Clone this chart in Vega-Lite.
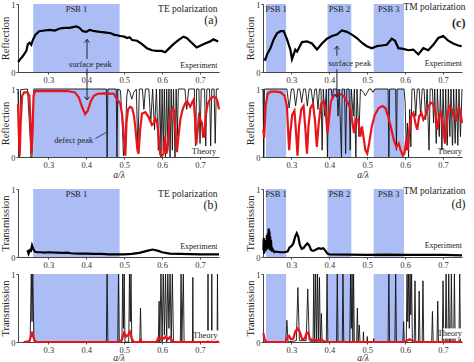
{
"$schema": "https://vega.github.io/schema/vega-lite/v6.json",
"padding": 0,
"autosize": {"type": "pad"},
"bounds": "flush",
"columns": 2,
"spacing": {"row": 0, "column": 44},
"config": {
 "font": "Liberation Serif",
 "view": {"stroke": null},
 "axis": {"grid": false, "labelFont": "Liberation Serif", "labelFontSize": 8.5, "labelColor": "#333", "tickSize": 2, "tickColor": "#444", "domainColor": "#444", "labelPadding": 1, "titleFont": "Liberation Serif", "titleFontSize": 10.5, "titleFontWeight": "normal", "titleColor": "#222"},
 "axisX": {"titleY": 20.5, "titleBaseline": "alphabetic", "titleFontSize": 9.5, "titleFontStyle": "italic"},
 "axisY": {"titlePadding": 0},
 "text": {"font": "Liberation Serif", "fontSize": 8.5, "color": "#222"}
},
"datasets": {
 "one": [{}],
 "aExp": [{"x":0.2204,"y":0.147},{"x":0.226,"y":0.19},{"x":0.233,"y":0.235},{"x":0.242,"y":0.31},{"x":0.246,"y":0.41},{"x":0.2505,"y":0.43},{"x":0.255,"y":0.4},{"x":0.259,"y":0.47},{"x":0.266,"y":0.55},{"x":0.276,"y":0.6},{"x":0.29,"y":0.61},{"x":0.3035,"y":0.62},{"x":0.317,"y":0.61},{"x":0.33,"y":0.64},{"x":0.343,"y":0.65},{"x":0.356,"y":0.65},{"x":0.365,"y":0.66},{"x":0.374,"y":0.67},{"x":0.382,"y":0.65},{"x":0.391,"y":0.6},{"x":0.4,"y":0.59},{"x":0.409,"y":0.62},{"x":0.422,"y":0.6},{"x":0.436,"y":0.59},{"x":0.453,"y":0.58},{"x":0.465,"y":0.57},{"x":0.4726,"y":0.55},{"x":0.49,"y":0.53},{"x":0.5,"y":0.52},{"x":0.508,"y":0.5},{"x":0.514,"y":0.51},{"x":0.521,"y":0.47},{"x":0.534,"y":0.46},{"x":0.547,"y":0.41},{"x":0.56,"y":0.35},{"x":0.573,"y":0.32},{"x":0.586,"y":0.31},{"x":0.599,"y":0.31},{"x":0.608,"y":0.29},{"x":0.617,"y":0.34},{"x":0.63,"y":0.41},{"x":0.643,"y":0.47},{"x":0.656,"y":0.52},{"x":0.665,"y":0.5},{"x":0.678,"y":0.43},{"x":0.691,"y":0.36},{"x":0.702,"y":0.39},{"x":0.713,"y":0.42},{"x":0.727,"y":0.45},{"x":0.735,"y":0.48},{"x":0.748,"y":0.45}],
 "aThB": [{"x":0.22,"y":0.98},{"x":0.223,"y":0},{"x":0.227,"y":0.99},{"x":0.245,"y":1},{"x":0.252,"y":0.3},{"x":0.254,"y":0},{"x":0.257,"y":0},{"x":0.259,"y":0.5},{"x":0.262,"y":1},{"x":0.453,"y":1},{"x":0.455,"y":0},{"x":0.457,"y":1},{"x":0.479,"y":1},{"x":0.481,"y":0},{"x":0.483,"y":1},{"x":0.49,"y":0.98},{"x":0.495,"y":0.5},{"x":0.498,"y":0.02},{"x":0.503,"y":0.3},{"x":0.507,"y":0.9},{"x":0.51,"y":1},{"x":0.515,"y":0.95},{"x":0.52,"y":0.85},{"x":0.525,"y":0.95},{"x":0.532,"y":1},{"x":0.536,"y":0.1},{"x":0.54,"y":1},{"x":0.548,"y":1},{"x":0.552,"y":0.7},{"x":0.556,"y":1},{"x":0.565,"y":1},{"x":0.57,"y":0.5},{"x":0.575,"y":1},{"x":0.58,"y":0.4},{"x":0.585,"y":1},{"x":0.59,"y":0.1},{"x":0.594,"y":1},{"x":0.597,"y":0},{"x":0.6,"y":1},{"x":0.603,"y":0.1},{"x":0.606,"y":1},{"x":0.609,"y":0},{"x":0.612,"y":1},{"x":0.615,"y":0.2},{"x":0.618,"y":1},{"x":0.621,"y":0},{"x":0.624,"y":1},{"x":0.627,"y":0.1},{"x":0.63,"y":1},{"x":0.634,"y":0},{"x":0.637,"y":1},{"x":0.64,"y":0.3},{"x":0.643,"y":1},{"x":0.66,"y":1},{"x":0.665,"y":0.7},{"x":0.67,"y":1},{"x":0.685,"y":1},{"x":0.688,"y":0.1},{"x":0.691,"y":1},{"x":0.697,"y":1},{"x":0.7,"y":0.2},{"x":0.703,"y":1},{"x":0.712,"y":1},{"x":0.715,"y":0.1},{"x":0.718,"y":1},{"x":0.725,"y":1},{"x":0.728,"y":0.15},{"x":0.731,"y":1},{"x":0.737,"y":1},{"x":0.74,"y":0.2},{"x":0.743,"y":1},{"x":0.75,"y":1}],
 "aThR": [{"x":0.22,"y":0.78},{"x":0.2225,"y":0.3},{"x":0.2245,"y":0.02},{"x":0.227,"y":0.5},{"x":0.231,"y":0.9},{"x":0.236,"y":0.95},{"x":0.245,"y":0.95},{"x":0.25,"y":0.9},{"x":0.253,"y":0.5},{"x":0.2555,"y":0.05},{"x":0.258,"y":0.3},{"x":0.261,"y":0.9},{"x":0.265,"y":0.97},{"x":0.3,"y":0.97},{"x":0.35,"y":0.97},{"x":0.37,"y":0.95},{"x":0.38,"y":0.88},{"x":0.39,"y":0.72},{"x":0.397,"y":0.63},{"x":0.404,"y":0.68},{"x":0.412,"y":0.82},{"x":0.42,"y":0.9},{"x":0.43,"y":0.93},{"x":0.45,"y":0.935},{"x":0.4726,"y":0.93},{"x":0.481,"y":0.85},{"x":0.49,"y":0.78},{"x":0.495,"y":0.6},{"x":0.499,"y":0.31},{"x":0.503,"y":0.02},{"x":0.506,"y":0.5},{"x":0.51,"y":0.7},{"x":0.516,"y":0.74},{"x":0.521,"y":0.72},{"x":0.526,"y":0.6},{"x":0.53,"y":0.4},{"x":0.535,"y":0.1},{"x":0.538,"y":0.05},{"x":0.542,"y":0.4},{"x":0.547,"y":0.64},{"x":0.556,"y":0.66},{"x":0.565,"y":0.58},{"x":0.573,"y":0.47},{"x":0.578,"y":0.5},{"x":0.582,"y":0.57},{"x":0.587,"y":0.5},{"x":0.591,"y":0.3},{"x":0.595,"y":0.04},{"x":0.6,"y":0.02},{"x":0.604,"y":0.05},{"x":0.607,"y":0.3},{"x":0.611,"y":0.05},{"x":0.614,"y":0.1},{"x":0.618,"y":0.4},{"x":0.622,"y":0.64},{"x":0.628,"y":0.72},{"x":0.631,"y":0.68},{"x":0.635,"y":0.4},{"x":0.639,"y":0.07},{"x":0.643,"y":0.3},{"x":0.648,"y":0.55},{"x":0.653,"y":0.68},{"x":0.657,"y":0.74},{"x":0.662,"y":0.8},{"x":0.666,"y":0.82},{"x":0.67,"y":0.78},{"x":0.674,"y":0.74},{"x":0.679,"y":0.8},{"x":0.683,"y":0.84},{"x":0.687,"y":0.55},{"x":0.69,"y":0.18},{"x":0.693,"y":0.35},{"x":0.697,"y":0.6},{"x":0.701,"y":0.55},{"x":0.705,"y":0.5},{"x":0.708,"y":0.3},{"x":0.711,"y":0.3},{"x":0.715,"y":0.6},{"x":0.72,"y":0.78},{"x":0.727,"y":0.86},{"x":0.736,"y":0.89},{"x":0.742,"y":0.87},{"x":0.746,"y":0.82},{"x":0.75,"y":0.7}],
 "bExp": [{"x":0.245,"y":0.1},{"x":0.248,"y":0.05},{"x":0.251,"y":0.1},{"x":0.254,"y":0.09},{"x":0.257,"y":0.17},{"x":0.26,"y":0.12},{"x":0.264,"y":0.08},{"x":0.27,"y":0.07},{"x":0.28,"y":0.07},{"x":0.29,"y":0.065},{"x":0.3,"y":0.07},{"x":0.32,"y":0.065},{"x":0.34,"y":0.06},{"x":0.35,"y":0.065},{"x":0.36,"y":0.055},{"x":0.38,"y":0.05},{"x":0.4,"y":0.05},{"x":0.42,"y":0.045},{"x":0.44,"y":0.045},{"x":0.46,"y":0.04},{"x":0.48,"y":0.04},{"x":0.5,"y":0.04},{"x":0.52,"y":0.045},{"x":0.54,"y":0.06},{"x":0.56,"y":0.09},{"x":0.575,"y":0.11},{"x":0.59,"y":0.09},{"x":0.6,"y":0.07},{"x":0.62,"y":0.05},{"x":0.65,"y":0.045},{"x":0.7,"y":0.04},{"x":0.75,"y":0.04}],
 "bThB": [{"x":0.24,"y":0},{"x":0.252,"y":0.02},{"x":0.255,"y":1},{"x":0.257,"y":0.3},{"x":0.259,"y":1},{"x":0.262,"y":0.02},{"x":0.27,"y":0},{"x":0.453,"y":0},{"x":0.455,"y":1},{"x":0.457,"y":0},{"x":0.483,"y":0},{"x":0.485,"y":1},{"x":0.487,"y":0},{"x":0.494,"y":0},{"x":0.496,"y":1},{"x":0.498,"y":0.2},{"x":0.5,"y":1},{"x":0.502,"y":0},{"x":0.512,"y":0},{"x":0.514,"y":1},{"x":0.516,"y":0.3},{"x":0.518,"y":1},{"x":0.52,"y":0},{"x":0.541,"y":0},{"x":0.543,"y":0.5},{"x":0.545,"y":0},{"x":0.59,"y":0},{"x":0.592,"y":0.6},{"x":0.594,"y":0},{"x":0.597,"y":1},{"x":0.6,"y":0},{"x":0.603,"y":1},{"x":0.606,"y":0.1},{"x":0.609,"y":1},{"x":0.612,"y":0},{"x":0.615,"y":1},{"x":0.618,"y":0.2},{"x":0.621,"y":1},{"x":0.624,"y":0},{"x":0.627,"y":1},{"x":0.63,"y":0},{"x":0.648,"y":0},{"x":0.65,"y":1},{"x":0.652,"y":0},{"x":0.656,"y":1},{"x":0.658,"y":0},{"x":0.68,"y":0},{"x":0.681,"y":0.95},{"x":0.682,"y":0},{"x":0.72,"y":0},{"x":0.721,"y":1},{"x":0.722,"y":0},{"x":0.73,"y":0},{"x":0.731,"y":1},{"x":0.732,"y":0},{"x":0.745,"y":0},{"x":0.746,"y":1},{"x":0.747,"y":0},{"x":0.75,"y":0}],
 "bThR": [{"x":0.235,"y":0},{"x":0.25,"y":0.01},{"x":0.255,"y":0.1},{"x":0.257,"y":0.15},{"x":0.26,"y":0.08},{"x":0.265,"y":0.01},{"x":0.27,"y":0},{"x":0.49,"y":0},{"x":0.495,"y":0.05},{"x":0.5,"y":0.14},{"x":0.505,"y":0.08},{"x":0.51,"y":0.1},{"x":0.515,"y":0.15},{"x":0.52,"y":0.05},{"x":0.525,"y":0},{"x":0.54,"y":0},{"x":0.543,"y":0.03},{"x":0.546,"y":0},{"x":0.585,"y":0},{"x":0.59,"y":0.06},{"x":0.595,"y":0.04},{"x":0.6,"y":0.07},{"x":0.605,"y":0.05},{"x":0.61,"y":0.08},{"x":0.615,"y":0.04},{"x":0.62,"y":0.07},{"x":0.625,"y":0.03},{"x":0.63,"y":0},{"x":0.75,"y":0}],
 "cExp": [{"x":0.2268,"y":0.19},{"x":0.231,"y":0.18},{"x":0.2357,"y":0.26},{"x":0.2445,"y":0.35},{"x":0.2532,"y":0.48},{"x":0.262,"y":0.57},{"x":0.2708,"y":0.6},{"x":0.2796,"y":0.6},{"x":0.2884,"y":0.48},{"x":0.2971,"y":0.33},{"x":0.3015,"y":0.19},{"x":0.3103,"y":0.33},{"x":0.315,"y":0.3},{"x":0.328,"y":0.44},{"x":0.3411,"y":0.45},{"x":0.3542,"y":0.42},{"x":0.3674,"y":0.33},{"x":0.3806,"y":0.42},{"x":0.3937,"y":0.49},{"x":0.4068,"y":0.53},{"x":0.42,"y":0.55},{"x":0.4332,"y":0.61},{"x":0.4463,"y":0.59},{"x":0.4595,"y":0.55},{"x":0.4726,"y":0.5},{"x":0.4858,"y":0.43},{"x":0.4989,"y":0.38},{"x":0.512,"y":0.35},{"x":0.5252,"y":0.38},{"x":0.5384,"y":0.39},{"x":0.5515,"y":0.4},{"x":0.5647,"y":0.49},{"x":0.5734,"y":0.46},{"x":0.5822,"y":0.35},{"x":0.5953,"y":0.34},{"x":0.6085,"y":0.32},{"x":0.6216,"y":0.33},{"x":0.6348,"y":0.26},{"x":0.6479,"y":0.35},{"x":0.6611,"y":0.32},{"x":0.6742,"y":0.4},{"x":0.6874,"y":0.5},{"x":0.7005,"y":0.53},{"x":0.7137,"y":0.46},{"x":0.7269,"y":0.42},{"x":0.74,"y":0.39},{"x":0.749,"y":0.38}],
 "cThB": [{"x":0.225,"y":1},{"x":0.227,"y":0},{"x":0.229,"y":1},{"x":0.288,"y":1},{"x":0.294,"y":0.72},{"x":0.3,"y":1},{"x":0.306,"y":1},{"x":0.311,"y":0.75},{"x":0.317,"y":1},{"x":0.322,"y":1},{"x":0.327,"y":0.8},{"x":0.332,"y":1},{"x":0.337,"y":1},{"x":0.342,"y":0.75},{"x":0.347,"y":1},{"x":0.352,"y":1},{"x":0.357,"y":0.78},{"x":0.362,"y":1},{"x":0.366,"y":1},{"x":0.37,"y":0.7},{"x":0.374,"y":1},{"x":0.378,"y":1},{"x":0.381,"y":0.1},{"x":0.384,"y":1},{"x":0.388,"y":0.6},{"x":0.392,"y":1},{"x":0.395,"y":0},{"x":0.398,"y":1},{"x":0.405,"y":1},{"x":0.408,"y":0.85},{"x":0.411,"y":1},{"x":0.42,"y":1},{"x":0.423,"y":0.6},{"x":0.426,"y":1},{"x":0.432,"y":0},{"x":0.434,"y":1},{"x":0.44,"y":1},{"x":0.443,"y":0.05},{"x":0.446,"y":1},{"x":0.452,"y":1},{"x":0.455,"y":0.1},{"x":0.458,"y":1},{"x":0.463,"y":0.6},{"x":0.466,"y":1},{"x":0.47,"y":0},{"x":0.473,"y":1},{"x":0.478,"y":0.3},{"x":0.482,"y":1},{"x":0.49,"y":0.95},{"x":0.495,"y":0.9},{"x":0.5,"y":0.95},{"x":0.505,"y":1},{"x":0.51,"y":1},{"x":0.515,"y":0.95},{"x":0.52,"y":1},{"x":0.555,"y":1},{"x":0.557,"y":0},{"x":0.559,"y":1},{"x":0.575,"y":1},{"x":0.577,"y":0.1},{"x":0.579,"y":1},{"x":0.597,"y":1},{"x":0.6,"y":0.8},{"x":0.603,"y":0.1},{"x":0.606,"y":0.5},{"x":0.609,"y":0},{"x":0.612,"y":0.7},{"x":0.615,"y":0.15},{"x":0.618,"y":1},{"x":0.624,"y":1},{"x":0.628,"y":0.6},{"x":0.632,"y":1},{"x":0.637,"y":1},{"x":0.641,"y":0.6},{"x":0.645,"y":1},{"x":0.65,"y":1},{"x":0.654,"y":0.55},{"x":0.658,"y":1},{"x":0.663,"y":0.1},{"x":0.666,"y":1},{"x":0.672,"y":1},{"x":0.675,"y":0.5},{"x":0.678,"y":1},{"x":0.682,"y":0.2},{"x":0.685,"y":1},{"x":0.69,"y":0.3},{"x":0.693,"y":1},{"x":0.697,"y":0.1},{"x":0.7,"y":1},{"x":0.704,"y":0.2},{"x":0.707,"y":1},{"x":0.711,"y":0.05},{"x":0.714,"y":1},{"x":0.718,"y":0.3},{"x":0.721,"y":1},{"x":0.725,"y":0.1},{"x":0.728,"y":1},{"x":0.732,"y":0.2},{"x":0.735,"y":1},{"x":0.739,"y":0.15},{"x":0.742,"y":1},{"x":0.746,"y":0.3},{"x":0.75,"y":1}],
 "cThR": [{"x":0.226,"y":0.4},{"x":0.228,"y":0.28},{"x":0.232,"y":0.75},{"x":0.237,"y":0.93},{"x":0.245,"y":0.96},{"x":0.26,"y":0.96},{"x":0.272,"y":0.95},{"x":0.282,"y":0.9},{"x":0.288,"y":0.75},{"x":0.292,"y":0.3},{"x":0.294,"y":0.1},{"x":0.297,"y":0.35},{"x":0.302,"y":0.62},{"x":0.308,"y":0.68},{"x":0.313,"y":0.3},{"x":0.316,"y":0.02},{"x":0.32,"y":0.45},{"x":0.326,"y":0.7},{"x":0.332,"y":0.75},{"x":0.337,"y":0.4},{"x":0.341,"y":0.05},{"x":0.345,"y":0.45},{"x":0.35,"y":0.72},{"x":0.357,"y":0.78},{"x":0.362,"y":0.55},{"x":0.367,"y":0.15},{"x":0.372,"y":0.5},{"x":0.378,"y":0.78},{"x":0.385,"y":0.82},{"x":0.39,"y":0.7},{"x":0.395,"y":0.35},{"x":0.398,"y":0.5},{"x":0.404,"y":0.82},{"x":0.412,"y":0.9},{"x":0.422,"y":0.92},{"x":0.432,"y":0.92},{"x":0.44,"y":0.88},{"x":0.448,"y":0.8},{"x":0.455,"y":0.72},{"x":0.46,"y":0.55},{"x":0.465,"y":0.35},{"x":0.47,"y":0.55},{"x":0.476,"y":0.55},{"x":0.482,"y":0.3},{"x":0.486,"y":0.45},{"x":0.49,"y":0.3},{"x":0.495,"y":0.1},{"x":0.5,"y":0.05},{"x":0.505,"y":0.2},{"x":0.512,"y":0.45},{"x":0.52,"y":0.62},{"x":0.53,"y":0.72},{"x":0.54,"y":0.75},{"x":0.548,"y":0.72},{"x":0.555,"y":0.6},{"x":0.562,"y":0.45},{"x":0.57,"y":0.25},{"x":0.577,"y":0.15},{"x":0.583,"y":0.2},{"x":0.588,"y":0.1},{"x":0.594,"y":0.02},{"x":0.598,"y":0.05},{"x":0.603,"y":0.25},{"x":0.607,"y":0.1},{"x":0.61,"y":0.35},{"x":0.616,"y":0.6},{"x":0.622,"y":0.65},{"x":0.627,"y":0.5},{"x":0.632,"y":0.4},{"x":0.637,"y":0.6},{"x":0.643,"y":0.65},{"x":0.648,"y":0.55},{"x":0.653,"y":0.6},{"x":0.66,"y":0.72},{"x":0.667,"y":0.8},{"x":0.674,"y":0.78},{"x":0.68,"y":0.65},{"x":0.685,"y":0.4},{"x":0.69,"y":0.6},{"x":0.695,"y":0.65},{"x":0.7,"y":0.45},{"x":0.705,"y":0.2},{"x":0.71,"y":0.55},{"x":0.716,"y":0.75},{"x":0.722,"y":0.72},{"x":0.728,"y":0.6},{"x":0.735,"y":0.55},{"x":0.742,"y":0.75},{"x":0.747,"y":0.62},{"x":0.75,"y":0.5}],
 "dExp": [{"x":0.226,"y":0.1},{"x":0.227,"y":0.28},{"x":0.228,"y":0.05},{"x":0.229,"y":0.2},{"x":0.231,"y":0.08},{"x":0.232,"y":0.25},{"x":0.234,"y":0.1},{"x":0.235,"y":0.32},{"x":0.237,"y":0.12},{"x":0.238,"y":0.35},{"x":0.239,"y":0.15},{"x":0.24,"y":0.42},{"x":0.241,"y":0.2},{"x":0.242,"y":0.38},{"x":0.243,"y":0.1},{"x":0.244,"y":0.3},{"x":0.245,"y":0.12},{"x":0.246,"y":0.25},{"x":0.248,"y":0.08},{"x":0.25,"y":0.12},{"x":0.255,"y":0.07},{"x":0.26,"y":0.08},{"x":0.27,"y":0.07},{"x":0.28,"y":0.07},{"x":0.29,"y":0.08},{"x":0.295,"y":0.14},{"x":0.3,"y":0.16},{"x":0.305,"y":0.2},{"x":0.31,"y":0.3},{"x":0.314,"y":0.35},{"x":0.318,"y":0.3},{"x":0.322,"y":0.18},{"x":0.327,"y":0.12},{"x":0.332,"y":0.13},{"x":0.337,"y":0.17},{"x":0.342,"y":0.2},{"x":0.347,"y":0.17},{"x":0.352,"y":0.1},{"x":0.358,"y":0.09},{"x":0.365,"y":0.11},{"x":0.372,"y":0.13},{"x":0.378,"y":0.12},{"x":0.384,"y":0.13},{"x":0.39,"y":0.09},{"x":0.395,"y":0.05},{"x":0.4,"y":0.04},{"x":0.45,"y":0.035},{"x":0.5,"y":0.03},{"x":0.55,"y":0.035},{"x":0.6,"y":0.03},{"x":0.65,"y":0.03},{"x":0.7,"y":0.03},{"x":0.75,"y":0.025}],
 "dThB": [{"x":0.226,"y":0},{"x":0.285,"y":0},{"x":0.288,"y":0.32},{"x":0.291,"y":0},{"x":0.313,"y":0.02},{"x":0.317,"y":0.8},{"x":0.321,"y":0.02},{"x":0.339,"y":0.02},{"x":0.343,"y":0.78},{"x":0.347,"y":0.02},{"x":0.357,"y":0},{"x":0.359,"y":1},{"x":0.361,"y":0},{"x":0.364,"y":1},{"x":0.366,"y":0},{"x":0.369,"y":1},{"x":0.371,"y":0},{"x":0.374,"y":0.95},{"x":0.376,"y":0},{"x":0.379,"y":0.42},{"x":0.381,"y":0},{"x":0.392,"y":0},{"x":0.394,"y":1},{"x":0.396,"y":0},{"x":0.419,"y":0},{"x":0.421,"y":1},{"x":0.423,"y":0},{"x":0.434,"y":0},{"x":0.436,"y":1},{"x":0.438,"y":0},{"x":0.454,"y":0},{"x":0.456,"y":1},{"x":0.458,"y":0.2},{"x":0.46,"y":1},{"x":0.462,"y":0},{"x":0.464,"y":1},{"x":0.466,"y":0},{"x":0.472,"y":0},{"x":0.474,"y":0.5},{"x":0.476,"y":0},{"x":0.479,"y":0.25},{"x":0.481,"y":0},{"x":0.489,"y":0},{"x":0.49,"y":0.15},{"x":0.491,"y":0},{"x":0.499,"y":0},{"x":0.5,"y":0.08},{"x":0.501,"y":0},{"x":0.516,"y":0},{"x":0.517,"y":0.05},{"x":0.518,"y":0},{"x":0.555,"y":0},{"x":0.557,"y":1},{"x":0.559,"y":0},{"x":0.573,"y":0},{"x":0.575,"y":1},{"x":0.577,"y":0},{"x":0.594,"y":0},{"x":0.596,"y":0.3},{"x":0.598,"y":0},{"x":0.603,"y":0},{"x":0.605,"y":1},{"x":0.607,"y":0.3},{"x":0.609,"y":1},{"x":0.611,"y":0.2},{"x":0.613,"y":1},{"x":0.615,"y":0.4},{"x":0.617,"y":1},{"x":0.619,"y":0},{"x":0.624,"y":0},{"x":0.626,"y":0.9},{"x":0.628,"y":0},{"x":0.635,"y":0},{"x":0.637,"y":0.75},{"x":0.639,"y":0},{"x":0.645,"y":0},{"x":0.647,"y":0.9},{"x":0.649,"y":0},{"x":0.67,"y":0},{"x":0.672,"y":0.45},{"x":0.674,"y":0},{"x":0.684,"y":0},{"x":0.686,"y":0.6},{"x":0.688,"y":0},{"x":0.698,"y":0},{"x":0.7,"y":0.9},{"x":0.702,"y":0},{"x":0.706,"y":0},{"x":0.708,"y":1},{"x":0.71,"y":0},{"x":0.713,"y":0},{"x":0.715,"y":1},{"x":0.717,"y":0},{"x":0.72,"y":0},{"x":0.722,"y":1},{"x":0.724,"y":0},{"x":0.728,"y":0},{"x":0.73,"y":1},{"x":0.732,"y":0},{"x":0.742,"y":0},{"x":0.744,"y":1},{"x":0.746,"y":0},{"x":0.75,"y":0}],
 "dThR": [{"x":0.226,"y":0.13},{"x":0.229,"y":0.05},{"x":0.233,"y":0},{"x":0.285,"y":0},{"x":0.29,"y":0.07},{"x":0.294,"y":0.09},{"x":0.298,"y":0.04},{"x":0.305,"y":0.05},{"x":0.31,"y":0.15},{"x":0.316,"y":0.2},{"x":0.322,"y":0.15},{"x":0.328,"y":0.04},{"x":0.335,"y":0.05},{"x":0.34,"y":0.13},{"x":0.344,"y":0.14},{"x":0.348,"y":0.06},{"x":0.355,"y":0.02},{"x":0.36,"y":0.04},{"x":0.364,"y":0.02},{"x":0.372,"y":0.02},{"x":0.378,"y":0.04},{"x":0.383,"y":0.02},{"x":0.39,"y":0},{"x":0.6,"y":0},{"x":0.605,"y":0.02},{"x":0.612,"y":0.04},{"x":0.618,"y":0.02},{"x":0.625,"y":0},{"x":0.75,"y":0}]
},
"concat": [
 {"width": 201, "height": 68, "layer": [
  {"data": {"values": [{"x": 0.26, "x2": 0.488, "label": "PSB 1"}]}, "mark": {"type": "rect", "color": "#abbdf4"},
   "encoding": {"x": {"field": "x", "type": "quantitative", "scale": {"domain": [0.22, 0.75], "nice": false, "zero": false}, "axis": {"values": [0.3, 0.4, 0.5, 0.6, 0.7], "format": "~g", "title": null}}, "x2": {"field": "x2"},
    "y": {"datum": 0, "type": "quantitative", "scale": {"domain": [0, 1], "nice": false}, "axis": {"values": [0, 0.2, 0.4, 0.6, 0.8, 1], "format": "~g", "title": "Reflection"}}, "y2": {"datum": 1}}},
  {"data": {"values": [{"x": 0.26, "x2": 0.488, "label": "PSB 1"}]}, "transform": [{"calculate": "(datum.x + datum.x2) / 2", "as": "mid"}], "mark": {"type": "text"}, "encoding": {"x": {"field": "mid", "type": "quantitative"}, "y": {"datum": 0.92}, "text": {"field": "label"}}},
  {"data": {"name": "aExp"}, "mark": {"type": "line", "color": "#000", "strokeWidth": 2.2}, "encoding": {"x": {"field": "x", "type": "quantitative"}, "y": {"field": "y", "type": "quantitative"}}},
  {"data": {"values": [{"x": 0.402, "y": 0.48, "y2": 0.19}, {"x": 0.402, "y": 0.05, "y2": -0.25}]}, "mark": {"type": "rule", "color": "#223", "strokeWidth": 1}, "encoding": {"x": {"field": "x", "type": "quantitative"}, "y": {"field": "y", "type": "quantitative"}, "y2": {"field": "y2"}}},
  {"data": {"name": "one"}, "mark": {"type": "point", "shape": "M-1,1.3L0,0L1,1.3", "filled": false, "color": "#223", "strokeWidth": 1, "size": 25, "opacity": 1}, "encoding": {"x": {"datum": 0.402}, "y": {"datum": 0.48}}},
  {"data": {"name": "one"}, "mark": {"type": "text", "text": "surface peak"}, "encoding": {"x": {"datum": 0.411}, "y": {"datum": 0.12}}},
  {"data": {"name": "one"}, "mark": {"type": "text", "text": "TE polarization", "align": "right", "fontSize": 9.5}, "encoding": {"x": {"datum": 0.746}, "y": {"datum": 0.93}}},
  {"data": {"name": "one"}, "mark": {"type": "text", "text": "(a)", "align": "right", "fontSize": 12}, "encoding": {"x": {"datum": 0.746}, "y": {"datum": 0.77}}},
  {"data": {"name": "one"}, "mark": {"type": "text", "text": "Experiment", "align": "right", "fontSize": 8}, "encoding": {"x": {"datum": 0.746}, "y": {"datum": 0.09}}}
 ]},
 {"width": 199, "height": 68, "layer": [
  {"data": {"values": [{"x": 0.233, "x2": 0.286, "label": "PSB 1"}, {"x": 0.395, "x2": 0.458, "label": "PSB 2"}, {"x": 0.517, "x2": 0.597, "label": "PSB 3"}]}, "mark": {"type": "rect", "color": "#abbdf4"},
   "encoding": {"x": {"field": "x", "type": "quantitative", "scale": {"domain": [0.225, 0.75], "nice": false, "zero": false}, "axis": {"values": [0.3, 0.4, 0.5, 0.6, 0.7], "format": "~g", "title": null}}, "x2": {"field": "x2"},
    "y": {"datum": 0, "type": "quantitative", "scale": {"domain": [0, 1], "nice": false}, "axis": {"values": [0, 0.2, 0.4, 0.6, 0.8, 1], "format": "~g", "title": "Reflection"}}, "y2": {"datum": 1}}},
  {"data": {"values": [{"x": 0.233, "x2": 0.286, "label": "PSB 1"}, {"x": 0.395, "x2": 0.458, "label": "PSB 2"}, {"x": 0.517, "x2": 0.597, "label": "PSB 3"}]}, "transform": [{"calculate": "(datum.x + datum.x2) / 2", "as": "mid"}], "mark": {"type": "text"}, "encoding": {"x": {"field": "mid", "type": "quantitative"}, "y": {"datum": 0.92}, "text": {"field": "label"}}},
  {"data": {"name": "cExp"}, "mark": {"type": "line", "color": "#000", "strokeWidth": 2.2}, "encoding": {"x": {"field": "x", "type": "quantitative"}, "y": {"field": "y", "type": "quantitative"}}},
  {"data": {"values": [{"x": 0.42, "y": 0.38, "y2": 0.24}, {"x": 0.42, "y": 0.04, "y2": -0.25}]}, "mark": {"type": "rule", "color": "#223", "strokeWidth": 1}, "encoding": {"x": {"field": "x", "type": "quantitative"}, "y": {"field": "y", "type": "quantitative"}, "y2": {"field": "y2"}}},
  {"data": {"name": "one"}, "mark": {"type": "point", "shape": "M-1,1.3L0,0L1,1.3", "filled": false, "color": "#223", "strokeWidth": 1, "size": 25, "opacity": 1}, "encoding": {"x": {"datum": 0.42}, "y": {"datum": 0.38}}},
  {"data": {"name": "one"}, "mark": {"type": "text", "text": "surface peak"}, "encoding": {"x": {"datum": 0.454}, "y": {"datum": 0.137}}},
  {"data": {"name": "one"}, "mark": {"type": "text", "text": "TM polarization", "align": "right", "fontSize": 9.5}, "encoding": {"x": {"datum": 0.759}, "y": {"datum": 0.95}}},
  {"data": {"name": "one"}, "mark": {"type": "text", "text": "(c)", "align": "right", "fontSize": 12, "fontWeight": "bold"}, "encoding": {"x": {"datum": 0.759}, "y": {"datum": 0.72}}},
  {"data": {"name": "one"}, "mark": {"type": "text", "text": "Experiment", "align": "right", "fontSize": 8}, "encoding": {"x": {"datum": 0.75}, "y": {"datum": 0.12}}}
 ]},
 {"width": 1, "height": 16.5, "data": {"values": []}, "mark": "point"},
 {"width": 1, "height": 16.5, "data": {"values": []}, "mark": "point"},
 {"width": 201, "height": 68, "layer": [
  {"data": {"values": [{"x": 0.26, "x2": 0.488}]}, "mark": {"type": "rect", "color": "#abbdf4"},
   "encoding": {"x": {"field": "x", "type": "quantitative", "scale": {"domain": [0.22, 0.75], "nice": false, "zero": false}, "axis": {"values": [0.3, 0.4, 0.5, 0.6, 0.7], "format": "~g", "title": "a/λ"}}, "x2": {"field": "x2"},
    "y": {"datum": 0, "type": "quantitative", "scale": {"domain": [0, 1], "nice": false}, "axis": {"values": [0, 0.2, 0.4, 0.6, 0.8, 1], "format": "~g", "title": "Reflection"}}, "y2": {"datum": 1}}},
  {"data": {"name": "aThB"}, "mark": {"type": "line", "color": "#111", "strokeWidth": 0.9}, "encoding": {"x": {"field": "x", "type": "quantitative"}, "y": {"field": "y", "type": "quantitative"}}},
  {"data": {"name": "one"}, "mark": {"type": "rect", "color": "#fff"}, "encoding": {"x": {"datum": 0.676}, "x2": {"datum": 0.75}, "y": {"datum": 0.01}, "y2": {"datum": 0.16}}},
  {"data": {"name": "aThR"}, "mark": {"type": "line", "color": "#e8141c", "strokeWidth": 2.2}, "encoding": {"x": {"field": "x", "type": "quantitative"}, "y": {"field": "y", "type": "quantitative"}}},
  {"data": {"name": "one"}, "mark": {"type": "rule", "color": "#223", "strokeWidth": 1}, "encoding": {"x": {"datum": 0.402}, "y": {"datum": 1.0}, "y2": {"datum": 0.84}}},
  {"data": {"name": "one"}, "mark": {"type": "point", "shape": "M-1,-1.3L0,0L1,-1.3", "filled": false, "color": "#223", "strokeWidth": 1, "size": 25, "opacity": 1}, "encoding": {"x": {"datum": 0.402}, "y": {"datum": 0.84}}},
  {"data": {"values": [{"x": 0.424, "y": 0.27}, {"x": 0.452, "y": 0.36}]}, "mark": {"type": "line", "color": "#223", "strokeWidth": 0.8}, "encoding": {"x": {"field": "x", "type": "quantitative"}, "y": {"field": "y", "type": "quantitative"}}},
  {"data": {"name": "one"}, "mark": {"type": "text", "text": "defect peak"}, "encoding": {"x": {"datum": 0.367}, "y": {"datum": 0.245}}},
  {"data": {"name": "one"}, "mark": {"type": "text", "text": "Theory", "align": "right", "fontSize": 8.5}, "encoding": {"x": {"datum": 0.743}, "y": {"datum": 0.09}}}
 ]},
 {"width": 199, "height": 68, "layer": [
  {"data": {"values": [{"x": 0.233, "x2": 0.286}, {"x": 0.395, "x2": 0.458}, {"x": 0.517, "x2": 0.597}]}, "mark": {"type": "rect", "color": "#abbdf4"},
   "encoding": {"x": {"field": "x", "type": "quantitative", "scale": {"domain": [0.225, 0.75], "nice": false, "zero": false}, "axis": {"values": [0.3, 0.4, 0.5, 0.6, 0.7], "format": "~g", "title": "a/λ"}}, "x2": {"field": "x2"},
    "y": {"datum": 0, "type": "quantitative", "scale": {"domain": [0, 1], "nice": false}, "axis": {"values": [0, 0.2, 0.4, 0.6, 0.8, 1], "format": "~g", "title": "Reflection"}}, "y2": {"datum": 1}}},
  {"data": {"name": "cThB"}, "mark": {"type": "line", "color": "#111", "strokeWidth": 0.9}, "encoding": {"x": {"field": "x", "type": "quantitative"}, "y": {"field": "y", "type": "quantitative"}}},
  {"data": {"name": "one"}, "mark": {"type": "rect", "color": "#fff"}, "encoding": {"x": {"datum": 0.7}, "x2": {"datum": 0.75}, "y": {"datum": 0.01}, "y2": {"datum": 0.17}}},
  {"data": {"name": "cThR"}, "mark": {"type": "line", "color": "#e8141c", "strokeWidth": 2.2}, "encoding": {"x": {"field": "x", "type": "quantitative"}, "y": {"field": "y", "type": "quantitative"}}},
  {"data": {"name": "one"}, "mark": {"type": "rule", "color": "#223", "strokeWidth": 1}, "encoding": {"x": {"datum": 0.42}, "y": {"datum": 1.0}, "y2": {"datum": 0.88}}},
  {"data": {"name": "one"}, "mark": {"type": "point", "shape": "M-1,-1.3L0,0L1,-1.3", "filled": false, "color": "#223", "strokeWidth": 1, "size": 25, "opacity": 1}, "encoding": {"x": {"datum": 0.42}, "y": {"datum": 0.88}}},
  {"data": {"name": "one"}, "mark": {"type": "text", "text": "Theory", "align": "right", "fontSize": 8.5}, "encoding": {"x": {"datum": 0.75}, "y": {"datum": 0.09}}}
 ]},
 {"width": 1, "height": 31.5, "data": {"values": []}, "mark": "point"},
 {"width": 1, "height": 31.5, "data": {"values": []}, "mark": "point"},
 {"width": 201, "height": 68, "layer": [
  {"data": {"values": [{"x": 0.26, "x2": 0.488, "label": "PSB 1"}]}, "mark": {"type": "rect", "color": "#abbdf4"},
   "encoding": {"x": {"field": "x", "type": "quantitative", "scale": {"domain": [0.22, 0.75], "nice": false, "zero": false}, "axis": {"values": [0.3, 0.4, 0.5, 0.6, 0.7], "format": "~g", "title": null}}, "x2": {"field": "x2"},
    "y": {"datum": 0, "type": "quantitative", "scale": {"domain": [0, 1], "nice": false}, "axis": {"values": [0, 0.2, 0.4, 0.6, 0.8, 1], "format": "~g", "title": "Transmission"}}, "y2": {"datum": 1}}},
  {"data": {"values": [{"x": 0.26, "x2": 0.488, "label": "PSB 1"}]}, "transform": [{"calculate": "(datum.x + datum.x2) / 2", "as": "mid"}], "mark": {"type": "text"}, "encoding": {"x": {"field": "mid", "type": "quantitative"}, "y": {"datum": 0.93}, "text": {"field": "label"}}},
  {"data": {"name": "bExp"}, "mark": {"type": "line", "color": "#000", "strokeWidth": 2.2}, "encoding": {"x": {"field": "x", "type": "quantitative"}, "y": {"field": "y", "type": "quantitative"}}},
  {"data": {"name": "one"}, "mark": {"type": "text", "text": "TE polarization", "align": "right", "fontSize": 9.5}, "encoding": {"x": {"datum": 0.746}, "y": {"datum": 0.93}}},
  {"data": {"name": "one"}, "mark": {"type": "text", "text": "(b)", "align": "right", "fontSize": 12}, "encoding": {"x": {"datum": 0.746}, "y": {"datum": 0.76}}},
  {"data": {"name": "one"}, "mark": {"type": "text", "text": "Experiment", "align": "right", "fontSize": 8}, "encoding": {"x": {"datum": 0.746}, "y": {"datum": 0.14}}}
 ]},
 {"width": 199, "height": 68, "layer": [
  {"data": {"values": [{"x": 0.233, "x2": 0.286, "label": "PSB 1"}, {"x": 0.395, "x2": 0.458, "label": "PSB 2"}, {"x": 0.517, "x2": 0.597, "label": "PSB 3"}]}, "mark": {"type": "rect", "color": "#abbdf4"},
   "encoding": {"x": {"field": "x", "type": "quantitative", "scale": {"domain": [0.225, 0.75], "nice": false, "zero": false}, "axis": {"values": [0.3, 0.4, 0.5, 0.6, 0.7], "format": "~g", "title": null}}, "x2": {"field": "x2"},
    "y": {"datum": 0, "type": "quantitative", "scale": {"domain": [0, 1], "nice": false}, "axis": {"values": [0, 0.2, 0.4, 0.6, 0.8, 1], "format": "~g", "title": "Transmission"}}, "y2": {"datum": 1}}},
  {"data": {"values": [{"x": 0.233, "x2": 0.286, "label": "PSB 1"}, {"x": 0.395, "x2": 0.458, "label": "PSB 2"}, {"x": 0.517, "x2": 0.597, "label": "PSB 3"}]}, "transform": [{"calculate": "(datum.x + datum.x2) / 2", "as": "mid"}], "mark": {"type": "text"}, "encoding": {"x": {"field": "mid", "type": "quantitative"}, "y": {"datum": 0.92}, "text": {"field": "label"}}},
  {"data": {"name": "dExp"}, "mark": {"type": "line", "color": "#000", "strokeWidth": 2.2}, "encoding": {"x": {"field": "x", "type": "quantitative"}, "y": {"field": "y", "type": "quantitative"}}},
  {"data": {"name": "one"}, "mark": {"type": "text", "text": "TM polarization", "align": "right", "fontSize": 9.5}, "encoding": {"x": {"datum": 0.759}, "y": {"datum": 0.97}}},
  {"data": {"name": "one"}, "mark": {"type": "text", "text": "(d)", "align": "right", "fontSize": 12}, "encoding": {"x": {"datum": 0.759}, "y": {"datum": 0.78}}},
  {"data": {"name": "one"}, "mark": {"type": "text", "text": "Experiment", "align": "right", "fontSize": 8}, "encoding": {"x": {"datum": 0.75}, "y": {"datum": 0.16}}}
 ]},
 {"width": 1, "height": 16.5, "data": {"values": []}, "mark": "point"},
 {"width": 1, "height": 16.5, "data": {"values": []}, "mark": "point"},
 {"width": 201, "height": 68, "layer": [
  {"data": {"values": [{"x": 0.26, "x2": 0.488}]}, "mark": {"type": "rect", "color": "#abbdf4"},
   "encoding": {"x": {"field": "x", "type": "quantitative", "scale": {"domain": [0.22, 0.75], "nice": false, "zero": false}, "axis": {"values": [0.3, 0.4, 0.5, 0.6, 0.7], "format": "~g", "title": "a/λ", "titleY": 18.5}}, "x2": {"field": "x2"},
    "y": {"datum": 0, "type": "quantitative", "scale": {"domain": [0, 1], "nice": false}, "axis": {"values": [0, 0.2, 0.4, 0.6, 0.8, 1], "format": "~g", "title": "Transmission"}}, "y2": {"datum": 1}}},
  {"data": {"name": "bThB"}, "mark": {"type": "line", "color": "#111", "strokeWidth": 0.9}, "encoding": {"x": {"field": "x", "type": "quantitative"}, "y": {"field": "y", "type": "quantitative"}}},
  {"data": {"name": "one"}, "mark": {"type": "rect", "color": "#fff"}, "encoding": {"x": {"datum": 0.7}, "x2": {"datum": 0.75}, "y": {"datum": 0.02}, "y2": {"datum": 0.17}}},
  {"data": {"name": "bThR"}, "mark": {"type": "line", "color": "#e8141c", "strokeWidth": 2.2}, "encoding": {"x": {"field": "x", "type": "quantitative"}, "y": {"field": "y", "type": "quantitative"}}},
  {"data": {"name": "one"}, "mark": {"type": "text", "text": "Theory", "align": "right", "fontSize": 8.5}, "encoding": {"x": {"datum": 0.746}, "y": {"datum": 0.1}}}
 ]},
 {"width": 199, "height": 68, "layer": [
  {"data": {"values": [{"x": 0.233, "x2": 0.286}, {"x": 0.395, "x2": 0.458}, {"x": 0.517, "x2": 0.597}]}, "mark": {"type": "rect", "color": "#abbdf4"},
   "encoding": {"x": {"field": "x", "type": "quantitative", "scale": {"domain": [0.225, 0.75], "nice": false, "zero": false}, "axis": {"values": [0.3, 0.4, 0.5, 0.6, 0.7], "format": "~g", "title": "a/λ", "titleY": 18.5}}, "x2": {"field": "x2"},
    "y": {"datum": 0, "type": "quantitative", "scale": {"domain": [0, 1], "nice": false}, "axis": {"values": [0, 0.2, 0.4, 0.6, 0.8, 1], "format": "~g", "title": "Transmission"}}, "y2": {"datum": 1}}},
  {"data": {"name": "dThB"}, "mark": {"type": "line", "color": "#111", "strokeWidth": 0.9}, "encoding": {"x": {"field": "x", "type": "quantitative"}, "y": {"field": "y", "type": "quantitative"}}},
  {"data": {"name": "one"}, "mark": {"type": "rect", "color": "#fff"}, "encoding": {"x": {"datum": 0.7}, "x2": {"datum": 0.75}, "y": {"datum": 0.05}, "y2": {"datum": 0.2}}},
  {"data": {"name": "dThR"}, "mark": {"type": "line", "color": "#e8141c", "strokeWidth": 2.2}, "encoding": {"x": {"field": "x", "type": "quantitative"}, "y": {"field": "y", "type": "quantitative"}}},
  {"data": {"name": "one"}, "mark": {"type": "text", "text": "Theory", "align": "right", "fontSize": 8.5}, "encoding": {"x": {"datum": 0.75}, "y": {"datum": 0.13}}}
 ]}
]
}
